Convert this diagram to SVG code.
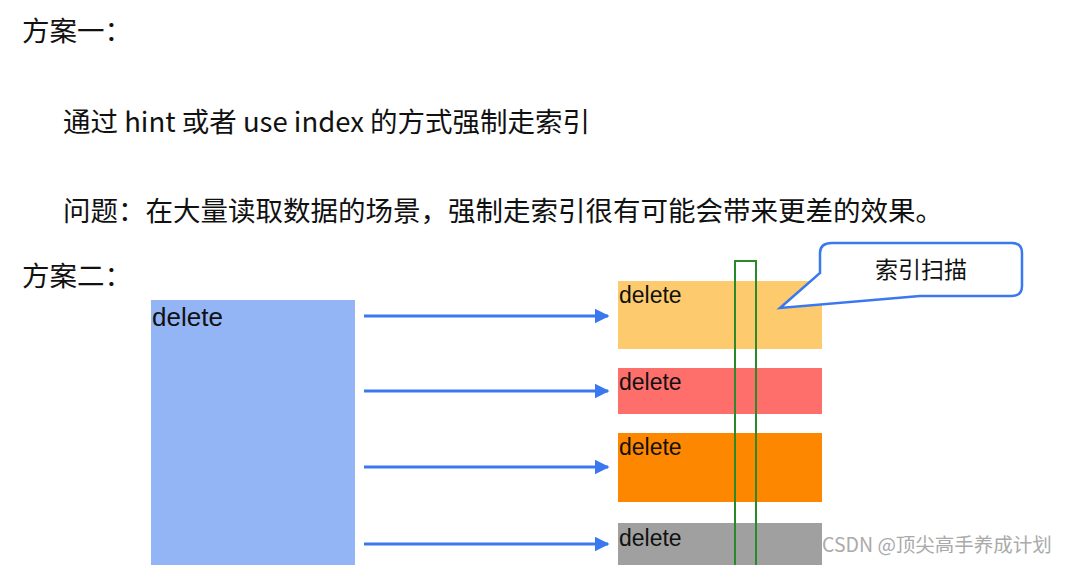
<svg xmlns="http://www.w3.org/2000/svg" width="1069" height="565" viewBox="0 0 1069 565">
<style>
text{font-family:"Noto Sans CJK SC","Liberation Sans",sans-serif;fill:#111}
.t{font-size:27.5px}
.d{font-family:"Liberation Sans",sans-serif;font-size:23px}
.c{stroke:#3a78f0;stroke-width:3;fill:none;marker-end:url(#a)}
</style>
<defs><marker id="a" viewBox="0 0 10 10" refX="9" refY="5" markerWidth="5" markerHeight="5" orient="auto" markerUnits="strokeWidth"><path d="M0,0L10,5L0,10z" fill="#3a78f0"/></marker></defs>
<rect width="1069" height="565" fill="#fff"/>
<text class="t" x="22" y="41">方案一：</text>
<text class="t" x="63" y="132">通过 hint 或者 use index 的方式强制走索引</text>
<text class="t" x="63" y="221">问题：在大量读取数据的场景，强制走索引很有可能会带来更差的效果。</text>
<text class="t" x="22" y="286">方案二：</text>
<g id="src"><rect x="151" y="300" width="204" height="265" fill="#93b5f5"/><text class="d" x="152" y="326" style="font-size:26px">delete</text></g>
<g id="n1"><rect x="618" y="281" width="204" height="68" fill="#fdca6e"/><text class="d" x="619" y="303">delete</text></g>
<g id="n2"><rect x="618" y="368" width="204" height="46" fill="#fe6f6c"/><text class="d" x="619" y="390">delete</text></g>
<g id="n3"><rect x="618" y="433" width="204" height="69" fill="#fe8700"/><text class="d" x="619" y="455">delete</text></g>
<g id="n4"><rect x="618" y="523" width="204" height="42" fill="#a0a0a0"/><text class="d" x="619" y="546">delete</text></g>
<g id="scan"><rect x="735" y="261" width="21" height="310" fill="none" stroke="#2a8a2a" stroke-width="2"/></g>
<g id="callout"><path d="M832,243H1012Q1022,243 1022,253V286Q1022,296 1012,296H920L780,308L820,273V253Q820,243 832,243Z" fill="#fff" stroke="#3a78f0" stroke-width="2.5"/><text x="921" y="278" text-anchor="middle" style="font-size:23px">索引扫描</text></g>
<g id="connectors">
<line class="c" x1="364" y1="316" x2="608" y2="316"/>
<line class="c" x1="364" y1="391" x2="608" y2="391"/>
<line class="c" x1="364" y1="467" x2="608" y2="467"/>
<line class="c" x1="364" y1="544" x2="608" y2="544"/>
</g>
<text x="822" y="552" style="font-size:19.5px;fill:#aaa">CSDN @顶尖高手养成计划</text>
</svg>
